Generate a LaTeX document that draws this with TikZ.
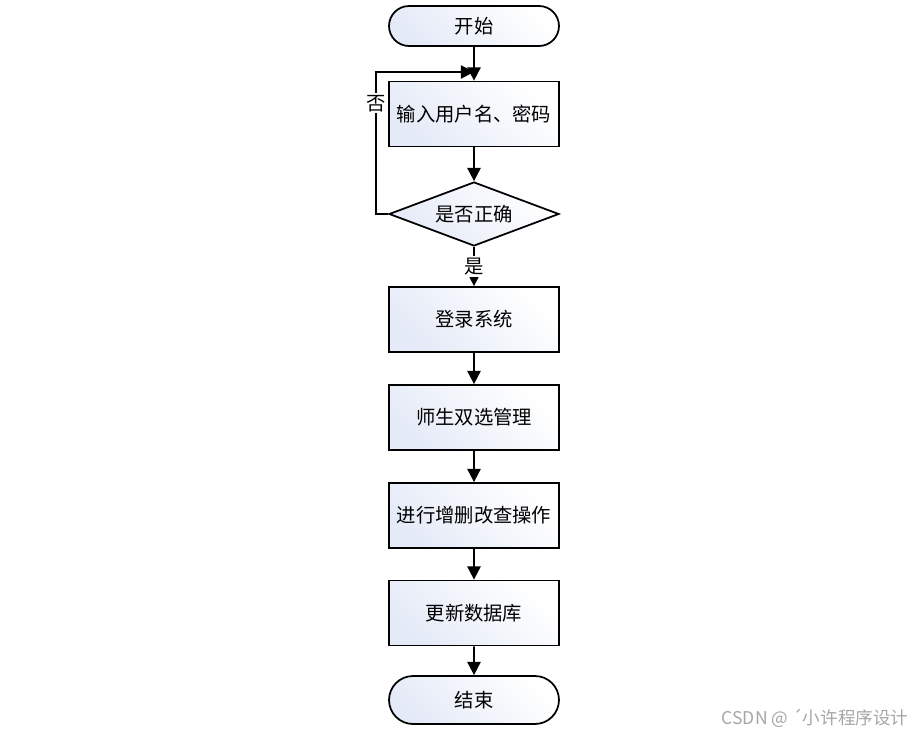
\documentclass[tikz,border=0pt]{standalone}
\usepackage{fontspec}
\newfontfamily\cjk{Noto Sans CJK SC}
\usepackage{tikz}
\usetikzlibrary{arrows.meta,shapes.misc,shapes.geometric}
\definecolor{paleblue}{RGB}{228,234,247}
\tikzset{
    shell/.style={draw, line width=1pt, font=\cjk\fontsize{11}{13}\selectfont,
        left color=paleblue, right color=white, shading angle=135, inner sep=0pt},
    terminal/.style={shell, rounded rectangle, minimum width=3.4cm, minimum height=0.8cm},
    process/.style={shell, rectangle, minimum width=3.4cm, minimum height=1.3cm},
    decision/.style={shell, diamond, aspect=2.66, minimum width=3.4cm, minimum height=1.28cm},
    flow/.style={line width=1pt, -{Triangle[width=7.5pt,length=7.5pt]}},
    tag/.style={font=\cjk\fontsize{11}{13}\selectfont, fill=white, inner sep=1pt}
}

\begin{document}
\begin{tikzpicture}[x=0.02cm, y=-0.02cm]
    \useasboundingbox (0,0) rectangle (914,734);

    \node[terminal] (start) at (474,26) {开始};
    \node[process] (input) at (474,114) {输入用户名、密码};
    \node[decision] (check) at (474,214) {是否正确};
    \node[process] (login) at (474,319.5) {登录系统};
    \node[process] (choose) at (474,417.5) {师生双选管理};
    \node[process] (edit) at (474,515.5) {进行增删改查操作};
    \node[process] (update) at (474,613) {更新数据库};
    \node[terminal, minimum height=0.96cm] (stop) at (474,700) {结束};

    \draw[flow] (start) -- (input);
    \draw[flow] (input) -- (check);
    \draw[flow] (check) -- node[tag] {是} (login);
    \foreach \from/\to in {login/choose, choose/edit, edit/update, update/stop}{
        \draw[flow] (\from) -- (\to);
    }

    % back loop when the check fails
    \coordinate (loop) at (376,72);
    \draw[flow] (check.west) -| node[tag, pos=0.89] {否} (loop) -- (loop -| input.north);

    \node[font=\cjk\fontsize{10}{12}\selectfont, text=black!35] (mark) at (815,718) {CSDN @ ´小许程序设计};
\end{tikzpicture}
\end{document}
